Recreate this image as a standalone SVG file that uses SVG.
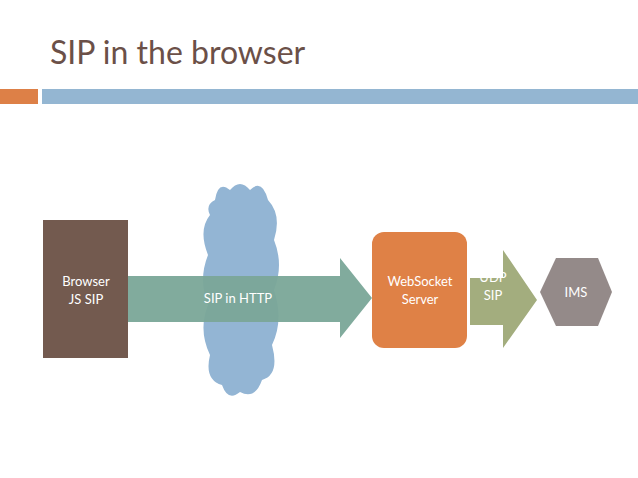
<svg xmlns="http://www.w3.org/2000/svg" width="638" height="478" viewBox="0 0 638 478">
<style>
text{font-family:"Lato","Liberation Sans",sans-serif;fill:#fff;text-anchor:middle;font-size:13px}
</style>
<rect width="638" height="478" fill="#fff"/>
<text x="50" y="64" style="font-size:32px;fill:#6b5048;text-anchor:start">SIP in the browser</text>
<rect x="0" y="89" width="38" height="15" fill="#dd8047"/>
<rect x="42" y="89" width="596" height="15" fill="#94b6d2"/>
<g id="cloud">
<path d="M215,200 Q218,180 230,190 Q240,178 250,190 Q262,178 268,200 Q282,215 274,240 Q284,265 274,290 Q284,320 272,345 Q280,375 262,380 Q255,400 240,392 Q228,402 222,385 Q204,380 210,355 Q198,330 208,305 Q198,280 208,255 Q198,230 210,215 Q205,205 215,200 Z" fill="#93b5d4"/>
</g>
<g id="browser">
<rect x="43" y="220" width="85" height="138" fill="#735a4f"/>
<text x="86" y="286">Browser</text>
<text x="86" y="304">JS SIP</text>
</g>
<g id="connectors">
<path d="M128,276 H340 V258 L372,298 L340,338 V322 H128 Z" fill="#7aa698" opacity="0.95"/>
<text x="238" y="303">SIP in HTTP</text>
<path d="M470,278 H503 V250 L537,300 L503,348 V325 H470 Z" fill="#a3ad7e"/>
<text x="493" y="282">UDP</text>
<text x="493" y="300">SIP</text>
</g>
<g id="ws">
<rect x="372" y="232" width="95" height="116" rx="12" fill="#df8146"/>
<text x="420" y="286">WebSocket</text>
<text x="420" y="304">Server</text>
</g>
<g id="ims">
<polygon points="540,292 556,258 598,258 612,292 598,326 556,326" fill="#948a89"/>
<text x="576" y="297">IMS</text>
</g>
</svg>
